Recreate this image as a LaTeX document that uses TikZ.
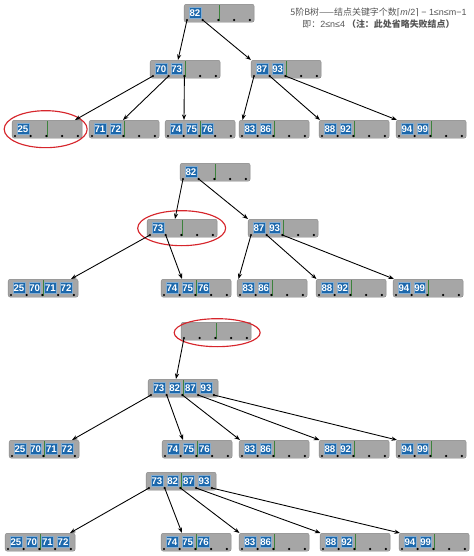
\documentclass[tikz,border=0pt]{standalone}
\usepackage{fontspec}
\setmainfont{Noto Sans CJK SC}
\newfontfamily\keyfont{Liberation Sans}
\newfontfamily\formfont{Liberation Sans}
\newfontfamily\ceilfont{DejaVu Sans}
\usepackage{tikz}
\usetikzlibrary{arrows.meta}
\definecolor{keyblue}{RGB}{28,104,172}
\definecolor{boxgray}{RGB}{166,166,166}
\definecolor{ringred}{RGB}{214,38,44}
\definecolor{midgreen}{RGB}{60,130,60}
\definecolor{notegray}{RGB}{85,85,85}

\tikzset{
  bnode/.style={anchor=north west, fill=boxgray, draw=boxgray!80!black, line width=0.2pt,
    rounded corners=1.2pt, minimum width=1.4cm, minimum height=0.36cm, inner sep=0pt},
  bkey/.style={fill=keyblue, draw=keyblue!55!white, line width=0.3pt, minimum width=0.235cm,
    minimum height=0.23cm, inner sep=0pt, text=white, font=\keyfont\bfseries\fontsize{5.5}{5.5}\selectfont},
  midline/.style={midgreen, line width=0.3pt},
  ptr/.style={-{Stealth[length=3.2pt,width=2.4pt]}, line width=0.5pt},
  ring/.style={ringred, line width=0.65pt},
  note/.style={anchor=west, inner sep=0pt, text=notegray, font=\fontsize{5.1}{6}\selectfont}
}

%% one B-tree node: name, x, y, keys
\newcommand{\btreenode}[4]{%
  \node[bnode] (#1) at (#2,#3) {};
  \draw[midline] ([shift={(35,1)}]#1.north west) -- ([shift={(35,17)}]#1.north west);
  \def\btkeys{#4}%
  \ifx\btkeys\empty\else
    \foreach \k [count=\i from 0] in {#4} {
      \node[bkey] at ([shift={(11+15.7*\i,9)}]#1.north west) {\k};
    }
  \fi
  \foreach \i in {0,...,4} {
    \coordinate (#1-p\i) at ([shift={(3+15.7*\i,16)}]#1.north west);
    \fill (#1-p\i) circle (0.7pt);
  }
}

\begin{document}
\begin{tikzpicture}[x=0.02cm, y=-0.02cm]
  \useasboundingbox (0,0) rectangle (474,556);

  %% Title
  \node[note] (title1) at (290,12) {5阶B树——结点关键字个数{\formfont{\ceilfont ⌈}\textit{m}/2{\ceilfont ⌉} − 1≤n≤m−1}};
  \node[note] (title2) at (302,24) {即：{\formfont 2≤n≤4} \textbf{（注：此处省略失败结点）}};

  %% Tree before deletion
  \btreenode{A1}{184}{4}{82}
  \btreenode{B1}{150}{60}{70,73}
  \btreenode{C1}{251}{60}{87,93}
  \btreenode{L1a}{12}{120}{25}
  \btreenode{L1b}{89}{120}{71,72}
  \btreenode{L1c}{165}{120}{74,75,76}
  \btreenode{L1d}{239}{120}{83,86}
  \btreenode{L1e}{319}{120}{88,92}
  \btreenode{L1f}{396}{120}{94,99}
  \draw[ring] ([shift={(-1.5,0)}]L1a.center) ellipse (0.83cm and 0.37cm);

  \draw[ptr] (A1-p0) -- ([shift={(28,0)}]B1.north west);
  \draw[ptr] (A1-p1) -- (C1.north west);
  \draw[ptr] (B1-p0) -- ([shift={(63,0)}]L1a.north west);
  \draw[ptr] (B1-p1) -- ([shift={(34,0)}]L1b.north west);
  \draw[ptr] (B1-p2) -- ([shift={(19,0)}]L1c.north west);
  \draw[ptr] (C1-p0) -- ([shift={(3.5,0)}]L1d.north west);
  \draw[ptr] (C1-p1) -- ([shift={(1,0)}]L1e.north west);
  \draw[ptr] (C1-p2) -- ([shift={(1,0)}]L1f.north west);

  %% After merging with the left sibling
  \btreenode{A2}{180}{163}{82}
  \btreenode{B2}{147}{219}{73}
  \btreenode{C2}{248}{219}{87,93}
  \btreenode{L2a}{8}{279}{25,70,71,72}
  \btreenode{L2c}{161}{279}{74,75,76}
  \btreenode{L2d}{237}{279}{83,86}
  \btreenode{L2e}{316}{279}{88,92}
  \btreenode{L2f}{393}{279}{94,99}
  \draw[ring] ([shift={(-0.5,0)}]B2.center) ellipse (0.88cm and 0.35cm);

  \draw[ptr] (A2-p0) -- ([shift={(28,0)}]B2.north west);
  \draw[ptr] (A2-p1) -- (C2.north west);
  \draw[ptr] (B2-p0) -- ([shift={(63,0)}]L2a.north west);
  \draw[ptr] (B2-p1) -- ([shift={(21,0)}]L2c.north west);
  \draw[ptr] (C2-p0) -- ([shift={(1.5,0)}]L2d.north west);
  \draw[ptr] (C2-p1) -- ([shift={(0.5,0)}]L2e.north west);
  \draw[ptr] (C2-p2) -- ([shift={(1,0)}]L2f.north west);

  %% Root becomes empty
  \btreenode{A3}{181}{322}{}
  \btreenode{B3}{148}{379}{73,82,87,93}
  \btreenode{L3a}{9}{440}{25,70,71,72}
  \btreenode{L3c}{162}{440}{74,75,76}
  \btreenode{L3d}{239}{440}{83,86}
  \btreenode{L3e}{319}{440}{88,92}
  \btreenode{L3f}{396}{440}{94,99}
  \draw[ring] ([shift={(1,1.5)}]A3.center) ellipse (0.86cm and 0.28cm);

  \draw[ptr] (A3-p0) -- ([shift={(28,0)}]B3.north west);
  \draw[ptr] (B3-p0) -- ([shift={(63,0)}]L3a.north west);
  \draw[ptr] (B3-p1) -- ([shift={(21,0)}]L3c.north west);
  \draw[ptr] (B3-p2) -- ([shift={(1,0)}]L3d.north west);
  \draw[ptr] (B3-p3) -- ([shift={(0.5,0)}]L3e.north west);
  \draw[ptr] (B3-p4) -- ([shift={(1,0)}]L3f.north west);

  %% Final tree
  \btreenode{B4}{146}{472}{73,82,87,93}
  \btreenode{L4a}{5}{533}{25,70,71,72}
  \btreenode{L4c}{161}{533}{74,75,76}
  \btreenode{L4d}{239}{533}{83,86}
  \btreenode{L4e}{320}{533}{88,92}
  \btreenode{L4f}{399}{533}{94,99}

  \draw[ptr] (B4-p0) -- ([shift={(65,0)}]L4a.north west);
  \draw[ptr] (B4-p1) -- ([shift={(21,0)}]L4c.north west);
  \draw[ptr] (B4-p2) -- ([shift={(0.5,0)}]L4d.north west);
  \draw[ptr] (B4-p3) -- ([shift={(0.5,0)}]L4e.north west);
  \draw[ptr] (B4-p4) -- ([shift={(1,0)}]L4f.north west);
\end{tikzpicture}
\end{document}
